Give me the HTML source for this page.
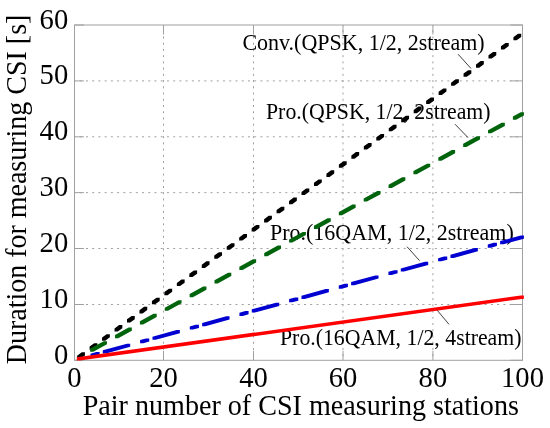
<!DOCTYPE html><html><head><meta charset="utf-8"><style>html,body{margin:0;padding:0;background:#fff;}svg{display:block;}text{font-family:"Liberation Serif","Times New Roman",serif;fill:#000;}</style></head><body><svg width="550" height="428" viewBox="0 0 550 428"><rect x="0" y="0" width="550" height="428" fill="#fff"/><g stroke="#a0a0a0" stroke-width="1" stroke-dasharray="2 4.23" stroke-dashoffset="1"><line x1="163.50" y1="25.00" x2="163.50" y2="360.30"/><line x1="253.50" y1="25.00" x2="253.50" y2="360.30"/><line x1="343.00" y1="25.00" x2="343.00" y2="360.30"/><line x1="432.90" y1="25.00" x2="432.90" y2="360.30"/><line x1="74.50" y1="304.50" x2="522.50" y2="304.50"/><line x1="74.50" y1="248.50" x2="522.50" y2="248.50"/><line x1="74.50" y1="192.65" x2="522.50" y2="192.65"/><line x1="74.50" y1="136.80" x2="522.50" y2="136.80"/><line x1="74.50" y1="80.90" x2="522.50" y2="80.90"/></g><g stroke="#a0a0a0" stroke-width="1"><line x1="74.50" y1="360.30" x2="74.50" y2="350.80"/><line x1="74.50" y1="25.00" x2="74.50" y2="34.50"/><line x1="163.50" y1="360.30" x2="163.50" y2="350.80"/><line x1="163.50" y1="25.00" x2="163.50" y2="34.50"/><line x1="253.50" y1="360.30" x2="253.50" y2="350.80"/><line x1="253.50" y1="25.00" x2="253.50" y2="34.50"/><line x1="343.00" y1="360.30" x2="343.00" y2="350.80"/><line x1="343.00" y1="25.00" x2="343.00" y2="34.50"/><line x1="432.90" y1="360.30" x2="432.90" y2="350.80"/><line x1="432.90" y1="25.00" x2="432.90" y2="34.50"/><line x1="522.50" y1="360.30" x2="522.50" y2="350.80"/><line x1="522.50" y1="25.00" x2="522.50" y2="34.50"/><line x1="74.50" y1="360.30" x2="84.00" y2="360.30"/><line x1="522.50" y1="360.30" x2="510.50" y2="360.30"/><line x1="74.50" y1="304.50" x2="84.00" y2="304.50"/><line x1="522.50" y1="304.50" x2="510.50" y2="304.50"/><line x1="74.50" y1="248.50" x2="84.00" y2="248.50"/><line x1="522.50" y1="248.50" x2="510.50" y2="248.50"/><line x1="74.50" y1="192.65" x2="84.00" y2="192.65"/><line x1="522.50" y1="192.65" x2="510.50" y2="192.65"/><line x1="74.50" y1="136.80" x2="84.00" y2="136.80"/><line x1="522.50" y1="136.80" x2="510.50" y2="136.80"/><line x1="74.50" y1="80.90" x2="84.00" y2="80.90"/><line x1="522.50" y1="80.90" x2="510.50" y2="80.90"/><line x1="74.50" y1="25.00" x2="84.00" y2="25.00"/><line x1="522.50" y1="25.00" x2="510.50" y2="25.00"/></g><rect x="74.50" y="25.00" width="448.00" height="335.30" fill="none" stroke="#a0a0a0" stroke-width="1"/><text transform="translate(242.40 50.10) scale(1 1.05)" font-size="22.0">Conv.(QPSK, 1/2, 2stream)</text><text transform="translate(266.00 118.60) scale(1 1.05)" font-size="21.8">Pro.(QPSK, 1/2, 2stream)</text><text transform="translate(270.00 239.70) scale(1 1.05)" font-size="22.0">Pro.(16QAM, 1/2, 2stream)</text><text transform="translate(280.00 345.00) scale(1 1.05)" font-size="21.8">Pro.(16QAM, 1/2, 4stream)</text><g stroke="#404040" stroke-width="1"><line x1="458.1" y1="54.2" x2="471" y2="68.5"/><line x1="455.0" y1="124.2" x2="468" y2="137.6"/><line x1="407" y1="246.7" x2="419.6" y2="260.7"/><line x1="437" y1="310" x2="449" y2="324.4"/></g><path d="M77.13 358.89L77.13 355.69L81.73 352.34L84.93 352.34L84.93 355.54L80.33 358.89ZM89.59 349.79L89.59 346.59L94.19 343.24L97.39 343.24L97.39 346.44L92.79 349.79ZM102.06 340.69L102.06 337.49L106.66 334.13L109.86 334.13L109.86 337.33L105.26 340.69ZM114.52 331.59L114.52 328.39L119.12 325.03L122.32 325.03L122.32 328.23L117.72 331.59ZM126.99 322.49L126.99 319.29L131.59 315.93L134.79 315.93L134.79 319.13L130.19 322.49ZM139.45 313.39L139.45 310.19L144.05 306.83L147.25 306.83L147.25 310.03L142.65 313.39ZM151.92 304.29L151.92 301.09L156.52 297.73L159.72 297.73L159.72 300.93L155.12 304.29ZM164.38 295.19L164.38 291.99L168.98 288.63L172.18 288.63L172.18 291.83L167.58 295.19ZM176.85 286.09L176.85 282.89L181.45 279.53L184.65 279.53L184.65 282.73L180.05 286.09ZM189.31 276.99L189.31 273.79L193.91 270.43L197.11 270.43L197.11 273.63L192.51 276.99ZM201.78 267.89L201.78 264.69L206.38 261.33L209.58 261.33L209.58 264.53L204.98 267.89ZM214.24 258.79L214.24 255.59L218.84 252.23L222.04 252.23L222.04 255.43L217.44 258.79ZM226.71 249.68L226.71 246.48L231.31 243.13L234.51 243.13L234.51 246.33L229.91 249.68ZM239.17 240.58L239.17 237.38L243.77 234.03L246.97 234.03L246.97 237.23L242.37 240.58ZM251.64 231.48L251.64 228.28L256.24 224.92L259.44 224.92L259.44 228.12L254.84 231.48ZM264.10 222.38L264.10 219.18L268.70 215.82L271.91 215.82L271.91 219.02L267.31 222.38ZM276.57 213.28L276.57 210.08L281.17 206.72L284.37 206.72L284.37 209.92L279.77 213.28ZM289.04 204.18L289.04 200.98L293.64 197.62L296.84 197.62L296.84 200.82L292.24 204.18ZM301.50 195.08L301.50 191.88L306.10 188.52L309.30 188.52L309.30 191.72L304.70 195.08ZM313.97 185.98L313.97 182.78L318.57 179.42L321.77 179.42L321.77 182.62L317.17 185.98ZM326.43 176.88L326.43 173.68L331.03 170.32L334.23 170.32L334.23 173.52L329.63 176.88ZM338.90 167.78L338.90 164.58L343.50 161.22L346.70 161.22L346.70 164.42L342.10 167.78ZM351.36 158.68L351.36 155.48L355.96 152.12L359.16 152.12L359.16 155.32L354.56 158.68ZM363.83 149.57L363.83 146.37L368.43 143.02L371.63 143.02L371.63 146.22L367.03 149.57ZM376.29 140.47L376.29 137.27L380.89 133.92L384.09 133.92L384.09 137.12L379.49 140.47ZM388.76 131.37L388.76 128.17L393.36 124.81L396.56 124.81L396.56 128.01L391.96 131.37ZM401.22 122.27L401.22 119.07L405.82 115.71L409.02 115.71L409.02 118.91L404.42 122.27ZM413.69 113.17L413.69 109.97L418.29 106.61L421.49 106.61L421.49 109.81L416.89 113.17ZM426.15 104.07L426.15 100.87L430.75 97.51L433.95 97.51L433.95 100.71L429.35 104.07ZM438.62 94.97L438.62 91.77L443.22 88.41L446.42 88.41L446.42 91.61L441.82 94.97ZM451.08 85.87L451.08 82.67L455.68 79.31L458.88 79.31L458.88 82.51L454.28 85.87ZM463.55 76.77L463.55 73.57L468.15 70.21L471.35 70.21L471.35 73.41L466.75 76.77ZM476.01 67.67L476.01 64.47L480.61 61.11L483.81 61.11L483.81 64.31L479.21 67.67ZM488.48 58.57L488.48 55.37L493.08 52.01L496.28 52.01L496.28 55.21L491.68 58.57ZM500.94 49.47L500.94 46.27L505.54 42.91L508.74 42.91L508.74 46.11L504.14 49.47ZM513.41 40.36L513.41 37.16L518.01 33.81L521.21 33.81L521.21 37.01L516.61 40.36Z" fill="#000"/><path d="M90.16 351.79L90.16 348.59L103.76 341.13L106.96 341.13L106.96 344.33L93.36 351.79ZM115.03 338.14L115.03 334.94L128.63 327.47L131.83 327.47L131.83 330.67L118.23 338.14ZM139.89 324.49L139.89 321.29L153.49 313.82L156.69 313.82L156.69 317.02L143.09 324.49ZM164.76 310.84L164.76 307.64L178.36 300.17L181.56 300.17L181.56 303.37L167.96 310.84ZM189.63 297.18L189.63 293.98L203.23 286.52L206.43 286.52L206.43 289.72L192.83 297.18ZM214.49 283.53L214.49 280.33L228.09 272.87L231.29 272.87L231.29 276.07L217.69 283.53ZM239.36 269.88L239.36 266.68L252.96 259.21L256.16 259.21L256.16 262.41L242.56 269.88ZM264.23 256.23L264.23 253.03L277.83 245.56L281.03 245.56L281.03 248.76L267.43 256.23ZM289.10 242.58L289.10 239.38L302.70 231.91L305.90 231.91L305.90 235.11L292.30 242.58ZM313.96 228.92L313.96 225.72L327.56 218.26L330.76 218.26L330.76 221.46L317.16 228.92ZM338.83 215.27L338.83 212.07L352.43 204.61L355.63 204.61L355.63 207.81L342.03 215.27ZM363.70 201.62L363.70 198.42L377.30 190.95L380.50 190.95L380.50 194.15L366.90 201.62ZM388.56 187.97L388.56 184.77L402.16 177.30L405.36 177.30L405.36 180.50L391.76 187.97ZM413.43 174.32L413.43 171.12L427.03 163.65L430.23 163.65L430.23 166.85L416.63 174.32ZM438.30 160.66L438.30 157.46L451.90 150.00L455.10 150.00L455.10 153.20L441.50 160.66ZM463.17 147.01L463.17 143.81L476.77 136.35L479.97 136.35L479.97 139.55L466.37 147.01ZM488.03 133.36L488.03 130.16L501.63 122.69L504.83 122.69L504.83 125.89L491.23 133.36ZM512.90 119.71L512.90 116.51L520.70 112.23L523.90 112.23L523.90 115.43L516.10 119.71Z" fill="#00640c"/><path d="M90.45 356.89L90.45 353.69L96.40 352.06L99.60 352.06L99.60 355.26L93.65 356.89ZM102.80 353.50L102.80 350.30L127.00 343.65L130.20 343.65L130.20 346.85L106.00 353.50ZM140.12 343.24L140.12 340.04L146.06 338.41L149.26 338.41L149.26 341.61L143.31 343.24ZM152.47 339.85L152.47 336.65L176.66 330.00L179.86 330.00L179.86 333.20L155.66 339.85ZM189.78 329.60L189.78 326.40L195.73 324.76L198.93 324.76L198.93 327.96L192.98 329.60ZM202.13 326.20L202.13 323.00L226.33 316.35L229.53 316.35L229.53 319.55L205.33 326.20ZM239.44 315.95L239.44 312.75L245.39 311.11L248.59 311.11L248.59 314.31L242.64 315.95ZM251.79 312.55L251.79 309.35L275.99 302.70L279.19 302.70L279.19 305.90L254.99 312.55ZM289.11 302.30L289.11 299.10L295.06 297.46L298.26 297.46L298.26 300.66L292.31 302.30ZM301.46 298.91L301.46 295.71L325.66 289.06L328.86 289.06L328.86 292.26L304.66 298.91ZM338.77 288.65L338.77 285.45L344.72 283.82L347.92 283.82L347.92 287.02L341.97 288.65ZM351.12 285.26L351.12 282.06L375.32 275.41L378.52 275.41L378.52 278.61L354.32 285.26ZM388.44 275.00L388.44 271.80L394.39 270.17L397.59 270.17L397.59 273.37L391.64 275.00ZM400.79 271.61L400.79 268.41L424.99 261.76L428.19 261.76L428.19 264.96L403.99 271.61ZM438.10 261.36L438.10 258.16L444.05 256.52L447.25 256.52L447.25 259.72L441.30 261.36ZM450.45 257.96L450.45 254.76L474.65 248.11L477.85 248.11L477.85 251.31L453.65 257.96ZM487.77 247.71L487.77 244.51L493.72 242.87L496.92 242.87L496.92 246.07L490.97 247.71ZM500.12 244.31L500.12 241.11L520.70 235.46L523.90 235.46L523.90 238.66L503.32 244.31Z" fill="#0000d0"/><path d="M76.80 360.56L76.80 357.36L520.70 295.44L523.90 295.44L523.90 298.64L80.00 360.56Z" fill="#ff0000"/><text transform="translate(74.50 386.8) scale(1 1.04)" font-size="28.6" text-anchor="middle">0</text><text transform="translate(163.50 386.8) scale(1 1.04)" font-size="28.6" text-anchor="middle">20</text><text transform="translate(253.50 386.8) scale(1 1.04)" font-size="28.6" text-anchor="middle">40</text><text transform="translate(343.00 386.8) scale(1 1.04)" font-size="28.6" text-anchor="middle">60</text><text transform="translate(432.90 386.8) scale(1 1.04)" font-size="28.6" text-anchor="middle">80</text><text transform="translate(522.50 386.8) scale(1 1.04)" font-size="28.6" text-anchor="middle">100</text><text transform="translate(68.2 363.80) scale(1 1.04)" font-size="28.6" text-anchor="end">0</text><text transform="translate(68.2 308.00) scale(1 1.04)" font-size="28.6" text-anchor="end">10</text><text transform="translate(68.2 252.00) scale(1 1.04)" font-size="28.6" text-anchor="end">20</text><text transform="translate(68.2 196.15) scale(1 1.04)" font-size="28.6" text-anchor="end">30</text><text transform="translate(68.2 140.30) scale(1 1.04)" font-size="28.6" text-anchor="end">40</text><text transform="translate(68.2 84.40) scale(1 1.04)" font-size="28.6" text-anchor="end">50</text><text transform="translate(68.2 28.50) scale(1 1.04)" font-size="28.6" text-anchor="end">60</text><text transform="translate(82.7 414.8) scale(1 1.02)" font-size="28.1">Pair number of CSI measuring stations</text><text transform="translate(25.8 364.3) rotate(-90) scale(1 1.05)" font-size="28">Duration for measuring CSI [s]</text></svg></body></html>
